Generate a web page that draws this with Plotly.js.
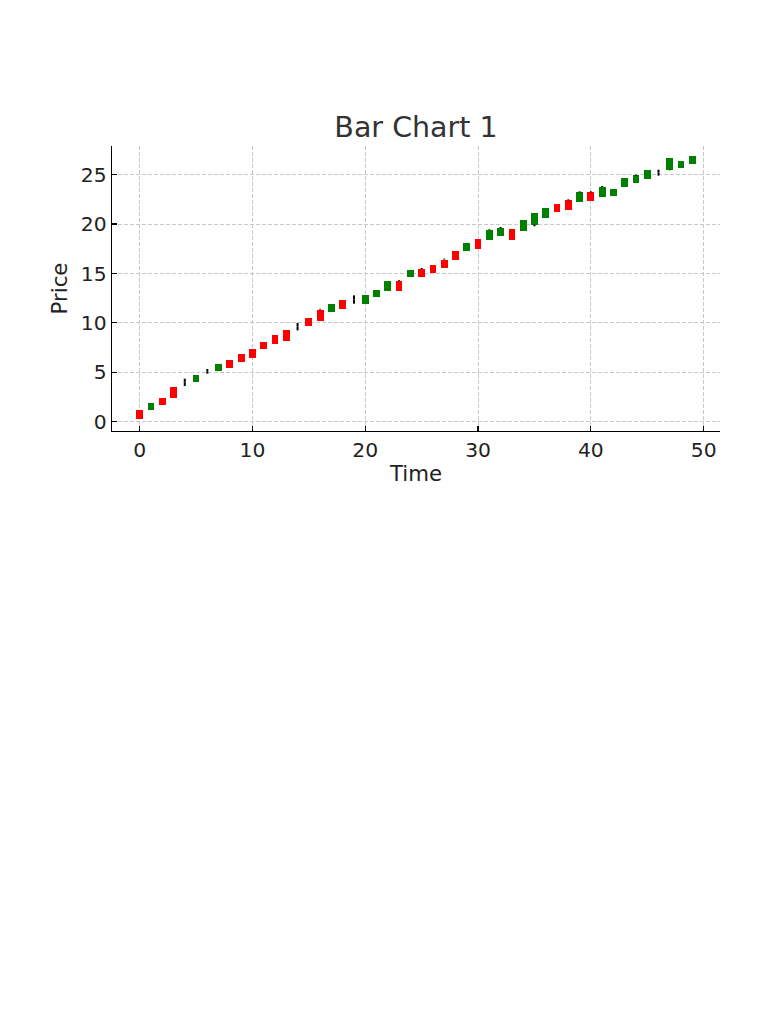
<!DOCTYPE html>
<html>
<head>
<meta charset="utf-8">
<script src="https://cdn.plot.ly/plotly-3.0.1.min.js"></script>
<style>html,body{margin:0;padding:0;background:#fff;}#chart{width:768px;height:1024px;}</style>
</head>
<body>
<div id="chart"></div>
<script>
const time = [0,1,2,3,4,5,6,7,8,9,10,11,12,13,14,15,16,17,18,19,20,21,22,23,24,25,26,27,28,29,30,31,32,33,34,35,36,37,38,39,40,41,42,43,44,45,46,47,48,49];
const openP = [1.21,1.18,2.43,3.47,3.98,3.98,5.10,5.09,6.24,6.85,7.36,8.11,8.80,9.31,9.62,10.50,11.34,11.06,12.32,12.36,11.94,12.58,13.26,14.24,14.64,15.45,15.89,16.40,17.24,17.31,18.52,18.42,18.76,19.53,19.33,19.94,20.62,22.03,22.40,22.20,23.21,22.70,22.87,23.75,24.19,24.56,25.20,25.50,25.64,26.11];
const closeP = [0.27,1.85,1.65,2.40,3.98,4.73,5.10,5.84,5.40,6.04,6.45,7.37,7.90,8.13,9.62,9.69,10.15,11.91,11.37,12.36,12.85,13.36,14.24,13.26,15.38,14.60,15.01,15.55,16.40,18.08,17.48,19.43,19.60,18.42,20.45,21.12,21.63,21.22,21.46,23.21,22.34,23.75,23.58,24.70,24.93,25.47,25.20,26.65,26.35,26.92];
const highP = [1.21,1.85,2.43,3.47,4.35,4.73,5.33,5.84,6.24,6.85,7.36,8.11,8.80,9.31,9.99,10.50,11.42,11.91,12.32,12.78,12.85,13.36,14.24,14.32,15.38,15.55,15.89,16.50,17.24,18.08,18.52,19.50,19.70,19.53,20.45,21.12,21.63,22.03,22.50,23.31,23.31,23.85,23.58,24.70,25.00,25.47,25.50,26.65,26.35,26.92];
const lowP = [0.27,1.18,1.65,2.40,3.61,3.98,4.86,5.09,5.40,6.04,6.45,7.37,7.90,8.13,9.24,9.69,10.15,11.06,11.37,11.94,11.94,12.58,13.26,13.26,14.64,14.60,15.01,15.55,16.40,17.31,17.48,18.42,18.76,18.42,19.33,19.77,20.62,21.22,21.46,22.20,22.34,22.70,22.87,23.75,24.19,24.56,24.90,25.45,25.64,26.11];

const upColor = '#008000', downColor = '#ff0000';

// wick segments (outside the bodies)
const wx = [], wy = [];
time.forEach((t, i) => {
  const bMin = Math.min(openP[i], closeP[i]);
  const bMax = Math.max(openP[i], closeP[i]);
  if (highP[i] > bMax) { wx.push(t, t, null); wy.push(bMax, highP[i], null); }
  if (lowP[i] < bMin) { wx.push(t, t, null); wy.push(lowP[i], bMin, null); }
});

const bodies = {
  type: 'bar',
  x: time,
  base: time.map((t, i) => Math.min(openP[i], closeP[i])),
  y: time.map((t, i) => Math.abs(closeP[i] - openP[i])),
  width: 0.6,
  marker: {color: time.map((t, i) => closeP[i] >= openP[i] ? upColor : downColor), line: {width: 0}},
  hoverinfo: 'skip',
  showlegend: false
};
const wicks = {
  type: 'scatter', mode: 'lines', x: wx, y: wy,
  line: {color: '#000000', width: 2},
  hoverinfo: 'skip', showlegend: false, connectgaps: false
};

const font = "'DejaVu Sans', 'DejaVu Sans Book', sans-serif";
const axisCommon = {
  showline: true, linecolor: '#000', linewidth: 1.3,
  ticks: 'inside', ticklen: 5, tickwidth: 1.2, tickcolor: '#000',
  showgrid: true, gridcolor: '#c8c8c8', griddash: '4px,2px', gridwidth: 1,
  zeroline: false, mirror: false,
  tickfont: {family: font, size: 20.3, color: '#222'}
};

const layout = {
  width: 768, height: 1024,
  paper_bgcolor: '#fff', plot_bgcolor: '#fff',
  margin: {l: 112, r: 48, t: 146, b: 593},
  showlegend: false,
  bargap: 0,
  font: {family: font},
  title: {text: 'Bar Chart 1', font: {family: font, size: 28.5, color: '#333'},
          x: 0.5, xref: 'paper', xanchor: 'center', y: 0.876, yref: 'container', yanchor: 'middle'},
  xaxis: Object.assign({}, axisCommon, {
    range: [-2.45, 51.45], tick0: 0, dtick: 10,
    title: {text: 'Time', font: {family: font, size: 21.3, color: '#222'}, standoff: 5}
  }),
  yaxis: Object.assign({}, axisCommon, {
    range: [-0.95, 27.9], tick0: 0, dtick: 5,
    title: {text: 'Price', font: {family: font, size: 21.3, color: '#222'}, standoff: 7}
  })
};

Plotly.newPlot('chart', [bodies, wicks], layout, {staticPlot: true, displayModeBar: false});
</script>
</body>
</html>
